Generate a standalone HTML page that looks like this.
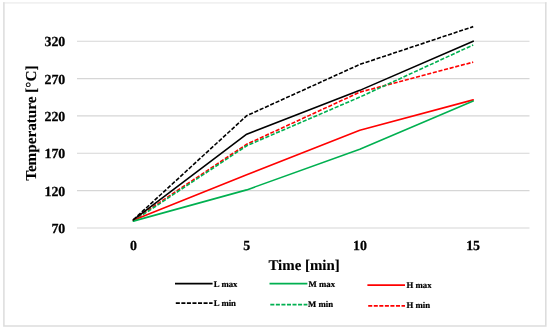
<!DOCTYPE html>
<html lang="en">
<head>
<meta charset="utf-8">
<title>Temperature vs Time</title>
<style>
html,body{margin:0;padding:0;background:#fff;}
body{width:550px;height:331px;overflow:hidden;position:relative;}
svg{position:absolute;left:0;top:0;display:block;}
text{font-family:"Liberation Serif","Times New Roman",serif;font-weight:bold;fill:#000;text-rendering:geometricPrecision;}
</style>
</head>
<body>
<svg width="550" height="331" viewBox="0 0 550 331">
<rect x="0" y="0" width="550" height="331" fill="#ffffff"/>
<!-- frame -->
<line x1="3.1" x2="546.6" y1="2.9" y2="2.9" stroke="#f1f1f1" stroke-width="1.6"/>
<polyline points="3.9,2.3 3.9,325.9 545.8,325.9 545.8,2.3" fill="none" stroke="#dddddd" stroke-width="1.55"/>
<g stroke="#d6d6d6" stroke-width="1.15" fill="none">
<line x1="77" x2="529.5" y1="41.20" y2="41.20"/>
<line x1="77" x2="529.5" y1="78.56" y2="78.56"/>
<line x1="77" x2="529.5" y1="115.92" y2="115.92"/>
<line x1="77" x2="529.5" y1="153.28" y2="153.28"/>
<line x1="77" x2="529.5" y1="190.64" y2="190.64"/>
<line x1="77" x2="529.5" y1="228.00" y2="228.00"/>
</g>
<g font-size="13.9px" stroke="#000" stroke-width="0.25">
<text x="65.3" y="46.20" text-anchor="end">320</text>
<text x="65.3" y="83.56" text-anchor="end">270</text>
<text x="65.3" y="120.92" text-anchor="end">220</text>
<text x="65.3" y="158.28" text-anchor="end">170</text>
<text x="65.3" y="195.64" text-anchor="end">120</text>
<text x="65.3" y="233.00" text-anchor="end">70</text>
<text x="133.60" y="249.6" text-anchor="middle">0</text>
<text x="246.80" y="249.6" text-anchor="middle">5</text>
<text x="360.00" y="249.6" text-anchor="middle">10</text>
<text x="473.10" y="249.6" text-anchor="middle">15</text>
</g>
<text stroke="#000" stroke-width="0.12" font-size="14.9px" x="304.1" y="270.35" text-anchor="middle">Time [min]</text>
<text stroke="#000" stroke-width="0.12" font-size="15.2px" transform="translate(36.1,123.2) rotate(-90)" text-anchor="middle">Temperature [°C]</text>
<g fill="none" stroke-width="1.6" stroke-linejoin="round">
<polyline points="133.30,219.93 246.70,144.24 359.80,92.16 473.20,62.12" stroke="#ff0000" stroke-linecap="butt" stroke-dasharray="4.1 1.7"/>
<polyline points="133.30,221.13 246.70,145.73 359.80,97.09 473.20,44.94" stroke="#00b050" stroke-linecap="butt" stroke-dasharray="4.1 1.7"/>
<polyline points="133.30,219.78 246.70,115.70 359.80,64.44 473.20,26.63" stroke="#000000" stroke-linecap="butt" stroke-dasharray="4.1 1.7"/>
<polyline points="133.30,220.23 246.70,174.80 359.80,130.34 473.20,99.86" stroke="#ff0000" stroke-linecap="round"/>
<polyline points="133.30,221.13 246.70,189.89 359.80,149.17 473.20,100.98" stroke="#00b050" stroke-linecap="round"/>
<polyline points="133.30,219.78 246.70,134.15 359.80,90.37 473.20,41.20" stroke="#000000" stroke-linecap="round"/>
</g>
<g font-size="8.75px" stroke="#000" stroke-width="0.2">
<line x1="175" x2="212.6" y1="283.7" y2="283.7" stroke="#000000" stroke-width="1.75"/>
<text x="213.85" y="286.60">L max</text>
<line x1="269.5" x2="307.4" y1="283.7" y2="283.7" stroke="#00b050" stroke-width="1.75"/>
<text x="308.6" y="286.50">M max</text>
<line x1="367.4" x2="405" y1="285.2" y2="285.2" stroke="#ff0000" stroke-width="1.75"/>
<text x="406.5" y="288.20">H max</text>
<line x1="175.8" x2="212.6" y1="303.2" y2="303.2" stroke="#000000" stroke-width="1.75" stroke-dasharray="4.05 1.5"/>
<text x="213.85" y="305.80">L min</text>
<line x1="270.3" x2="307.4" y1="304.5" y2="304.5" stroke="#00b050" stroke-width="1.75" stroke-dasharray="4.05 1.5"/>
<text x="308.1" y="307.20">M min</text>
<line x1="368.2" x2="405" y1="305.9" y2="305.9" stroke="#ff0000" stroke-width="1.75" stroke-dasharray="4.05 1.5"/>
<text x="406.5" y="308.10">H min</text>
</g>
</svg>
</body>
</html>
